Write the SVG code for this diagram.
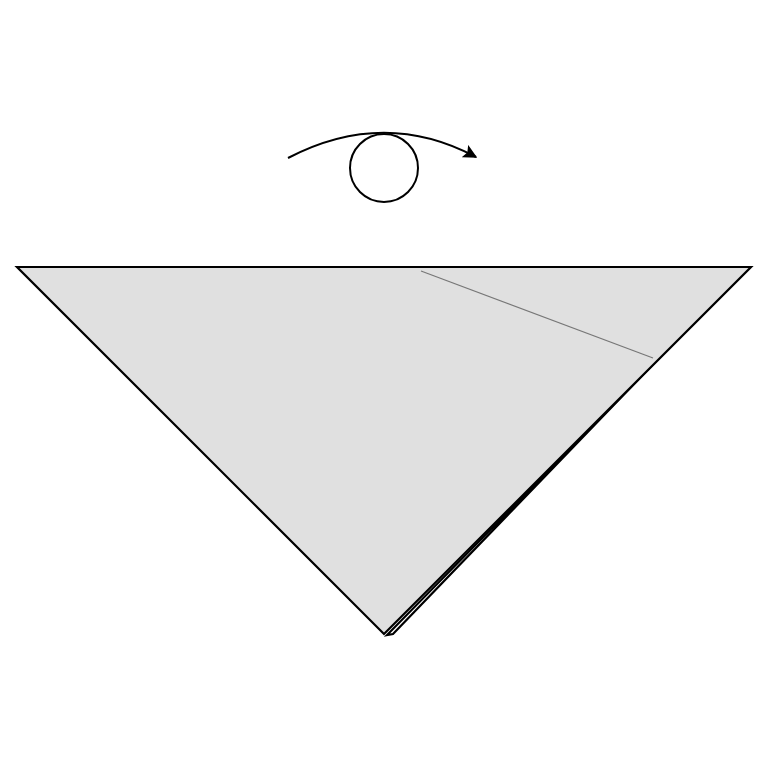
<svg xmlns="http://www.w3.org/2000/svg" width="768" height="768" viewBox="0 0 768 768">
<defs>
<marker id="ah" viewBox="0 0 10 10" refX="9" refY="5" markerWidth="7" markerHeight="7" markerUnits="strokeWidth" orient="auto">
<path d="M0,0 L10,5 L0,10 L2,5 Z" fill="#000"/>
</marker>
<style>
.edge{stroke:#000;stroke-width:2.2;stroke-linejoin:miter}
.fold{stroke:#777;stroke-width:1.2;fill:none}
</style>
</defs>
<rect width="768" height="768" fill="#fff"/>
<g id="back-layer">
<polygon class="edge" fill="#fff" points="662,355 393,634 387,635"/>
</g>
<g id="front-layer">
<polygon class="edge" fill="#e0e0e0" points="17,267 751,267 384,634"/>
<line class="fold" x1="421" y1="271" x2="653" y2="358"/>
</g>
<g id="turn-over-symbol">
<circle cx="384" cy="168" r="34" fill="#fff" stroke="#000" stroke-width="2"/>
<path d="M288,158 Q384,108 476,157" fill="none" stroke="#000" stroke-width="2" marker-end="url(#ah)"/>
</g>
</svg>
